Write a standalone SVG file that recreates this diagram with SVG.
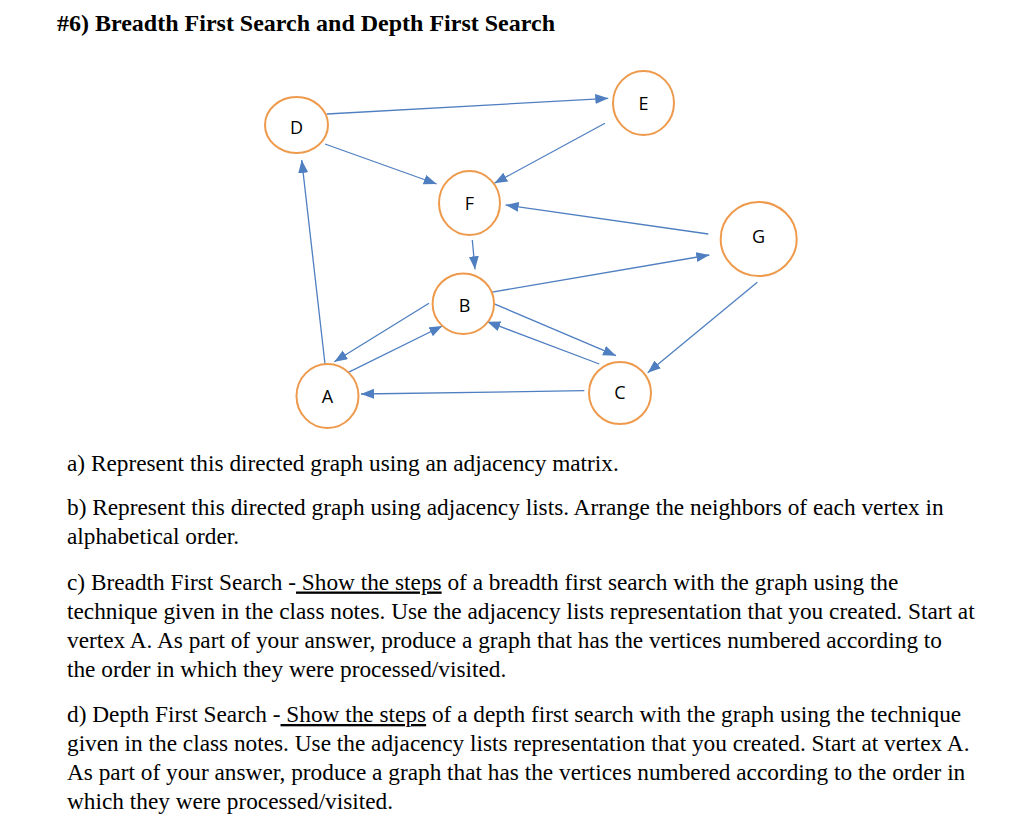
<svg xmlns="http://www.w3.org/2000/svg" width="1024" height="823" viewBox="0 0 1024 823">
<style>
.node{fill:#ffffff;stroke:#EE9A4D;stroke-width:2}
.lbl{font-family:"Open Sans","Liberation Sans",Arial,sans-serif;font-size:18px;fill:#000;text-anchor:middle}
.edge{stroke:#4F7FC0;stroke-width:1.3;fill:none;marker-end:url(#arr)}
.title{font-family:"Liberation Serif","Times New Roman",serif;font-weight:bold;font-size:24px;fill:#000}
.body{font-family:"Liberation Serif","Times New Roman",serif;font-size:23.3px;fill:#000}
.u{text-decoration:underline}
</style>
<defs>
<marker id="arr" markerUnits="userSpaceOnUse" markerWidth="14" markerHeight="11" refX="13" refY="5" orient="auto">
<path d="M0,0 L13,5 L0,10 z" fill="#4F7FC0"/>
</marker>
</defs>
<rect width="1024" height="823" fill="#ffffff"/>
<text class="title" x="57" y="31">#6) Breadth First Search and Depth First Search</text>
<g id="connectors">
<line class="edge" x1="326.7" y1="114" x2="608.3" y2="98.3"/>
<line class="edge" x1="325" y1="144" x2="436.7" y2="184"/>
<line class="edge" x1="605" y1="123.3" x2="494.3" y2="183.3"/>
<line class="edge" x1="708.3" y1="234" x2="505.7" y2="205"/>
<line class="edge" x1="472.3" y1="240" x2="475" y2="269.3"/>
<line class="edge" x1="490.7" y1="292.3" x2="709.3" y2="255"/>
<line class="edge" x1="429" y1="303.3" x2="334.3" y2="361.7"/>
<line class="edge" x1="348.3" y1="372.3" x2="442.3" y2="326"/>
<line class="edge" x1="490.7" y1="302.3" x2="616" y2="355.7"/>
<line class="edge" x1="599.3" y1="364" x2="487.3" y2="321.7"/>
<line class="edge" x1="757.3" y1="282.3" x2="647.7" y2="372.7"/>
<line class="edge" x1="584.3" y1="390.7" x2="361" y2="394"/>
<line class="edge" x1="325" y1="364" x2="301.7" y2="160"/>
</g>
<g id="node-D"><ellipse class="node" cx="296.5" cy="125" rx="31.5" ry="28"/><text class="lbl" x="296.5" y="134">D</text></g>
<g id="node-E"><ellipse class="node" cx="643.5" cy="103" rx="30.5" ry="32"/><text class="lbl" x="643.5" y="110">E</text></g>
<g id="node-F"><ellipse class="node" cx="469.5" cy="203" rx="30.5" ry="32"/><text class="lbl" x="469.5" y="209.5">F</text></g>
<g id="node-G"><ellipse class="node" cx="758.7" cy="239" rx="38" ry="37"/><text class="lbl" x="758.5" y="243">G</text></g>
<g id="node-B"><ellipse class="node" cx="463.3" cy="303.7" rx="30.7" ry="30.3"/><text class="lbl" x="464.5" y="311.5">B</text></g>
<g id="node-A"><ellipse class="node" cx="327.5" cy="396" rx="31" ry="32"/><text class="lbl" x="327.5" y="402.8">A</text></g>
<g id="node-C"><ellipse class="node" cx="620" cy="393" rx="31" ry="31"/><text class="lbl" x="620" y="399">C</text></g>
<g id="questions">
<text class="body" x="67" y="471">a) Represent this directed graph using an adjacency matrix.</text>
<text class="body" x="67" y="514.5">b) Represent this directed graph using adjacency lists. Arrange the neighbors of each vertex in</text>
<text class="body" x="67" y="543.5">alphabetical order.</text>
<text class="body" x="67" y="589.5">c) Breadth First Search -<tspan class="u"> Show the steps</tspan> of a breadth first search with the graph using the</text>
<text class="body" x="67" y="618.5">technique given in the class notes. Use the adjacency lists representation that you created. Start at</text>
<text class="body" x="67" y="647.5">vertex A. As part of your answer, produce a graph that has the vertices numbered according to</text>
<text class="body" x="67" y="676.5">the order in which they were processed/visited.</text>
<text class="body" x="67" y="722">d) Depth First Search -<tspan class="u"> Show the steps</tspan> of a depth first search with the graph using the technique</text>
<text class="body" x="67" y="751">given in the class notes. Use the adjacency lists representation that you created. Start at vertex A.</text>
<text class="body" x="67" y="780">As part of your answer, produce a graph that has the vertices numbered according to the order in</text>
<text class="body" x="67" y="809">which they were processed/visited.</text>
</g>
</svg>
